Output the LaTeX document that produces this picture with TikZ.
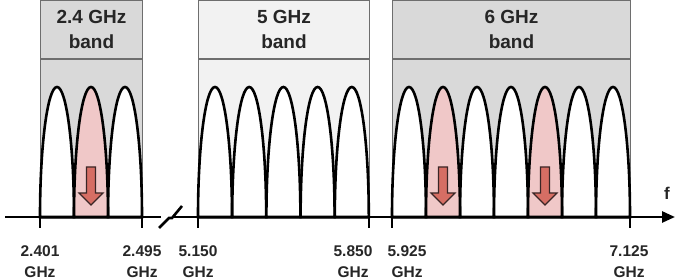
\documentclass[tikz,border=0pt]{standalone}
\usepackage{fontspec}
\setmainfont{Liberation Sans}
\usepackage{tikz}
\usetikzlibrary{arrows.meta,positioning}

\definecolor{bandgrey}{HTML}{D9D9D9}
\definecolor{bandlight}{HTML}{F2F2F2}
\definecolor{bandline}{HTML}{6E6E6E}
\definecolor{lobepink}{HTML}{F0C8C8}
\definecolor{arrred}{HTML}{D66E64}
\definecolor{arrdark}{HTML}{3A2626}

\begin{document}
\begin{tikzpicture}[
    x=1pt, y=1pt,
    head/.style={draw=bandline, line width=0.9pt, anchor=north west, inner sep=0pt,
                 minimum height=58pt, align=center,
                 font=\fontsize{19}{25}\selectfont\bfseries, text=black!85},
    body/.style={draw=bandline, line width=0.9pt, anchor=north west, inner sep=0pt,
                 minimum height=159pt},
    lobe/.style={draw=black, line width=2.6pt, fill=white},
    hot/.style={lobe, fill=lobepink},
    tick/.style={draw=black, line width=2pt},
    axis/.style={draw=black, line width=2.6pt},
    freq/.style={font=\fontsize{15.5}{21}\selectfont\bfseries, align=center,
                 anchor=north, inner sep=0pt, text=black!85},
    down/.style={draw=arrdark, line width=1.1pt, fill=arrred, line join=miter}
]
\useasboundingbox (0,-63) rectangle (677,217);

% band boxes
\node[head, fill=bandgrey, minimum width=102pt] (h24) at (40,216.5) {2.4 GHz\\band};
\node[body, fill=bandgrey, minimum width=102pt, below=0pt of h24.south west, anchor=north west] (b24) {};
\node[head, fill=bandlight, minimum width=171pt] (h5) at (198,216.5) {5 GHz\\band};
\node[body, fill=bandlight, minimum width=171pt, below=0pt of h5.south west, anchor=north west] (b5) {};
\node[head, fill=bandgrey, minimum width=238pt] (h6) at (392,216.5) {6 GHz\\band};
\node[body, fill=bandgrey, minimum width=238pt, below=0pt of h6.south west, anchor=north west] (b6) {};

% channels
\foreach \x in {40,108, 198,232.2,266.4,300.6,334.8, 392,460,494,562,596}
  \filldraw[lobe] (\x,0) arc[start angle=180, end angle=0, x radius=17pt, y radius=130pt] -- cycle;
\foreach \x in {74,426,528}
  \filldraw[hot] (\x,0) arc[start angle=180, end angle=0, x radius=17pt, y radius=130pt] -- cycle;

% down arrows
\foreach \c in {91,443,545}
  \filldraw[down] (\c-4.5,50) -- (\c+4.5,50) -- (\c+4.5,24) -- (\c+12,24)
    -- (\c,12) -- (\c-12,24) -- (\c-4.5,24) -- cycle;

% frequency axis with break
\coordinate (ax0) at (5,0);
\coordinate (brk0) at (161,0);
\coordinate (brk1) at (172,0);
\coordinate (ax1) at (675,0);
\draw[axis] (ax0) -- (brk0);
\draw[axis, line join=miter] (159,-11) -- (169,-1) -- (172,-1) -- (182,11);
\draw[axis, -{Triangle[length=13pt,width=11pt]}] (brk1) -- (ax1);
\node[font=\fontsize{17}{18}\selectfont\bfseries, text=black!85] (f) at (667,24) {f};

% band edges
\foreach \x in {40,142,198,369,392,630}
  \draw[tick] (\x,1) -- (\x,-11);

\node[freq] (f2401) at (40,-28) {2.401\\GHz};
\node[freq] (f2495) at (142,-28) {2.495\\GHz};
\node[freq] (f5150) at (198,-28) {5.150\\GHz};
\node[freq] (f5850) at (353,-28) {5.850\\GHz};
\node[freq] (f5925) at (407,-28) {5.925\\GHz};
\node[freq] (f7125) at (629,-28) {7.125\\GHz};
\end{tikzpicture}
\end{document}
